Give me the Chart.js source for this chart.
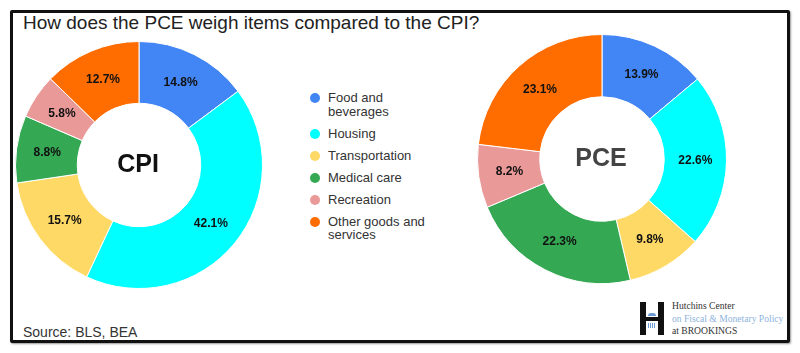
<!DOCTYPE html>
<html>
<head>
<meta charset="utf-8">
<script src="https://cdn.jsdelivr.net/npm/chart.js@4"></script>
<style>
  html, body { margin: 0; padding: 0; background: #fff; }
  body { width: 800px; height: 353px; position: relative; overflow: hidden; font-family: "Liberation Sans", Arial, sans-serif; }
  #frame { position: absolute; left: 10px; top: 10px; width: 774px; height: 327px; border: 3px solid #111; border-radius: 2px; box-shadow: 1px 1px 2px #999; }
  #title { position: absolute; left: 23px; top: 12px; font-size: 19px; color: #222; letter-spacing: 0; }
  #cpi { position: absolute; left: 15px; top: 41px; }
  #pce { position: absolute; left: 477px; top: 34px; }
  #legend { position: absolute; left: 308px; top: 91px; font-size: 13px; color: #333; line-height: 13.5px; }
  #legend .item { position: relative; padding-left: 20px; margin-bottom: 8.5px; }
  #legend .dot { position: absolute; left: 2px; top: 2px; width: 10px; height: 10px; border-radius: 50%; }
  #source { position: absolute; left: 23px; top: 324px; font-size: 14px; color: #333; }
  #logo { position: absolute; left: 640px; top: 302px; width: 24px; height: 33px; }
  #logo .bar { position: absolute; top: 0; width: 6px; height: 33px; background: #111; }
  #logo .mid { position: absolute; left: 0; top: 15px; width: 24px; height: 4px; background: #111; }
  #logo .house { position: absolute; left: 8px; top: 11px; width: 8px; height: 3px; background: #6b9bd2; border-radius: 4px 4px 0 0; }
  #logo .cols { position: absolute; left: 8px; top: 21px; width: 8px; height: 5px; background: repeating-linear-gradient(90deg, #6b9bd2 0 1px, #fff 1px 2px); }
  #logotext { position: absolute; left: 672px; top: 300px; font-family: "Liberation Serif", serif; font-size: 9.6px; line-height: 12.5px; color: #333; }
  #logotext .blue { color: #8fb3dd; }
</style>
</head>
<body>
<div id="frame"></div>
<div id="title">How does the PCE weigh items compared to the CPI?</div>
<canvas id="cpi" width="248" height="248"></canvas>
<canvas id="pce" width="250" height="250"></canvas>
<div id="legend"></div>
<div id="source">Source: BLS, BEA</div>
<div id="logo"><div class="bar" style="left:0"></div><div class="bar" style="left:18px"></div><div class="mid"></div><div class="house"></div><div class="cols"></div></div>
<div id="logotext">Hutchins Center<br><span class="blue">on Fiscal &amp; Monetary Policy</span><br>at BROOKINGS</div>
<script>
const categories = ["Food and beverages", "Housing", "Transportation", "Medical care", "Recreation", "Other goods and services"];
const legendLines = [["Food and", "beverages"], ["Housing"], ["Transportation"], ["Medical care"], ["Recreation"], ["Other goods and", "services"]];
const cpiValues = [14.8, 42.1, 15.7, 8.8, 5.8, 12.7];
const pceValues = [13.9, 22.6, 9.8, 22.3, 8.2, 23.1];
const colors = ["#4285F4", "#00FFFF", "#FFD966", "#34A853", "#EA9999", "#FF6D01"];

// legend in html, built from the same arrays
const lg = document.getElementById("legend");
legendLines.forEach(function (lines, i) {
  const d = document.createElement("div");
  d.className = "item";
  d.innerHTML = '<span class="dot" style="background:' + colors[i] + '"></span>' + lines.join("<br>");
  lg.appendChild(d);
});

// percentage labels on the slices and the name in the hole
const sliceLabels = {
  id: "sliceLabels",
  afterDatasetsDraw: function (chart, args, opts) {
    const ctx = chart.ctx;
    const meta = chart.getDatasetMeta(0);
    ctx.save();
    ctx.textAlign = "center";
    ctx.textBaseline = "middle";
    ctx.fillStyle = "#111";
    ctx.font = "bold 12px 'Liberation Sans', Arial, sans-serif";
    meta.data.forEach(function (arc, i) {
      const p = arc.tooltipPosition();
      ctx.fillText(chart.data.datasets[0].data[i].toFixed(1) + "%", p.x, p.y);
    });
    const c = meta.data[0];
    ctx.fillStyle = opts.color;
    ctx.font = "bold 25px 'Liberation Sans', Arial, sans-serif";
    ctx.fillText(opts.text, c.x - 1, c.y);
    ctx.restore();
  }
};

function makeDonut(id, values, name, nameColor) {
  new Chart(document.getElementById(id), {
    type: "doughnut",
    data: {
      labels: categories,
      datasets: [{
        data: values,
        backgroundColor: colors,
        borderColor: "#fff",
        borderWidth: 1,
      }],
    },
    options: {
      responsive: false,
      animation: false,
      cutout: "50%",
      layout: { padding: 0 },
      plugins: {
        legend: { display: false },
        tooltip: { enabled: false },
        sliceLabels: { text: name, color: nameColor },
      },
    },
    plugins: [sliceLabels],
  });
}

makeDonut("cpi", cpiValues, "CPI", "#111");
makeDonut("pce", pceValues, "PCE", "#444");
</script>
</body>
</html>
